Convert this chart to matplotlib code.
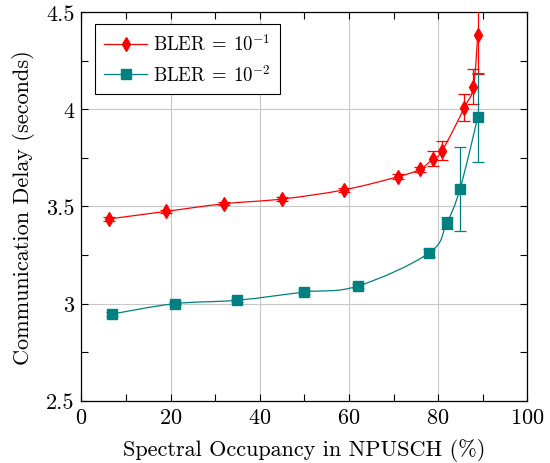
import numpy as np
import matplotlib
matplotlib.use("Agg")
import matplotlib.pyplot as plt
from matplotlib.path import Path
from matplotlib.patches import PathPatch
from matplotlib.ticker import MultipleLocator

plt.rcParams["font.family"] = ["cmr10", "DejaVu Serif"]
plt.rcParams["mathtext.fontset"] = "cm"
plt.rcParams["axes.formatter.use_mathtext"] = True

# --- data ---
x_b1 = [6.1, 19.0, 31.9, 45.1, 58.9, 70.9, 75.9, 78.9, 80.9, 85.9, 87.9, 88.9]
y_b1 = [3.435, 3.474, 3.513, 3.538, 3.585, 3.652, 3.691, 3.746, 3.786, 4.008, 4.115, 4.382]
e_b1 = [0.008, 0.008, 0.008, 0.008, 0.01, 0.012, 0.012, 0.037, 0.05, 0.07, 0.09, 0.2]

x_b2 = [6.9, 20.9, 35.0, 50.0, 62.0, 77.9, 81.9, 84.9, 88.9]
y_b2 = [2.946, 2.999, 3.017, 3.059, 3.090, 3.259, 3.413, 3.589, 3.958]
e_b2 = [0.008, 0.008, 0.008, 0.008, 0.01, 0.02, 0.03, 0.215, 0.23]

y_ticks = [2.5, 3, 3.5, 4, 4.5]
y_ticklabels = ["2.5", "3", "3.5", "4", "4.5"]

red = "#ff0000"
teal = "#008080"


def smooth_path(xs, ys, t=0.55):
    # bezier curve through the points, like pgfplots "smooth"
    p = np.column_stack([xs, ys])
    n = len(p)
    verts = [p[0]]
    codes = [Path.MOVETO]
    for i in range(n - 1):
        p0 = p[i - 1] if i > 0 else p[i]
        p3 = p[i + 2] if i + 2 < n else p[i + 1]
        c1 = p[i] + (p[i + 1] - p0) * t / 3
        c2 = p[i + 1] - (p3 - p[i]) * t / 3
        verts += [c1, c2, p[i + 1]]
        codes += [Path.CURVE4] * 3
    return Path(verts, codes)


fig = plt.figure(figsize=(5.5, 4.64), dpi=100)
ax = fig.add_axes([0.148, 0.1343, 0.8107, 0.8377])

for xs, ys, es, col, mk, ms, lab in [
    (x_b1, y_b1, e_b1, red, "d", 7.5, r"$\mathrm{BLER}\:=\:10^{-1}$"),
    (x_b2, y_b2, e_b2, teal, "s", 6.8, r"$\mathrm{BLER}\:=\:10^{-2}$"),
]:
    ax.add_patch(PathPatch(smooth_path(xs, ys), fill=False, ec=col, lw=0.9, zorder=3))
    ax.errorbar(xs, ys, yerr=es, fmt="none", ecolor=col, elinewidth=0.9,
                capsize=4.5, capthick=0.9, zorder=3)
    ax.plot(xs, ys, ls="none", marker=mk, ms=ms, color=col, zorder=4)
    # legend proxy
    ax.plot([], [], color=col, lw=0.9, marker=mk, ms=ms, label=lab)

ax.set_xlim(0, 100)
ax.set_ylim(2.5, 4.5)
ax.xaxis.set_major_locator(MultipleLocator(20))
ax.xaxis.set_minor_locator(MultipleLocator(10))
ax.yaxis.set_minor_locator(MultipleLocator(0.25))
ax.set_yticks(y_ticks)
ax.set_yticklabels(y_ticklabels)
ax.tick_params(which="both", direction="in", top=True, right=True,
               length=5, width=0.8, labelsize=16, pad=5)
ax.grid(True, which="major", color="#c8c8c8", lw=0.8)
ax.set_axisbelow(True)
for s in ax.spines.values():
    s.set_linewidth(0.9)

ax.set_xlabel("Spectral Occupancy in NPUSCH (%)", fontsize=16, labelpad=8)
ax.set_ylabel("Communication Delay (seconds)", fontsize=16, labelpad=8)

leg = ax.legend(loc="upper left", fontsize=13.5,
                fancybox=False, framealpha=1, edgecolor="black",
                bbox_to_anchor=(0.03, 0.969), borderaxespad=0,
                handlelength=2.3, handletextpad=0.3, borderpad=0.5,
                labelspacing=0.5)
leg.get_frame().set_linewidth(0.8)

fig.savefig("out.png", dpi=100)
